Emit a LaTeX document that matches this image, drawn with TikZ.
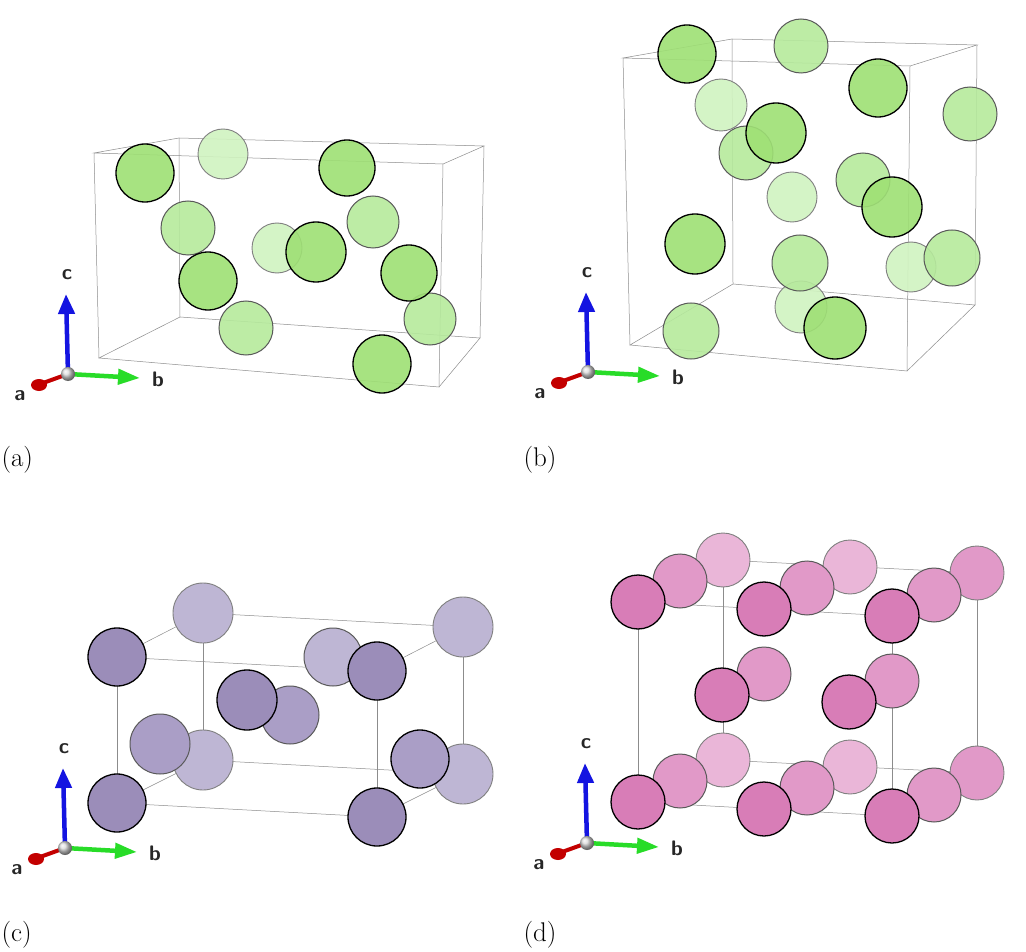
\documentclass[tikz,border=0pt]{standalone}
\usetikzlibrary{arrows.meta}
\definecolor{gD}{RGB}{158,224,116}\definecolor{gM}{RGB}{182,234,156}\definecolor{gL}{RGB}{208,243,192}
\definecolor{pD}{RGB}{155,141,185}\definecolor{pM}{RGB}{170,158,198}\definecolor{pL}{RGB}{190,182,212}
\definecolor{kD}{RGB}{216,125,183}\definecolor{kM}{RGB}{225,153,200}\definecolor{kL}{RGB}{234,182,216}
\definecolor{axC}{RGB}{20,20,225}\definecolor{axB}{RGB}{40,220,40}\definecolor{axA}{RGB}{195,0,0}
\tikzset{
 edge/.style={draw=black!45,line width=0.5pt},
 dk/.style={draw=black,line width=1.3pt},
 md/.style={draw=black!65,line width=1pt},
 lt/.style={draw=black!50,line width=0.9pt},
 axlab/.style={font=\sffamily\bfseries\fontsize{21}{21}\selectfont,text=black!85},
 panlab/.style={font=\fontsize{27}{29}\selectfont,anchor=west}
}
\newcommand\ball[4]{\path[#1] (#2,#3) circle[radius=#4];}
\newcommand\axesat[2]{%
 \begin{scope}[shift={(#1,#2)}]
  \draw[line width=4.5pt,draw=axC,-{Triangle[length=20pt,width=16pt]}] (0,0) -- (-2,-80);
  \draw[line width=4.5pt,draw=axB,-{Triangle[length=22pt,width=15pt]}] (0,0) -- (72,4);
  \draw[line width=4pt,draw=axA] (0,0) -- (-25,9);
  \fill[axA] (-29,11) ellipse[x radius=8,y radius=6];
  \shade[ball color=black!15] (0,0) circle[radius=7];
  \node[axlab] (cl) at (-1,-99) {c};
  \node[axlab] (bl) at (90,5) {b};
  \node[axlab] (al) at (-48,22) {a};
 \end{scope}}
\begin{document}
\begin{tikzpicture}[x=1pt,y=-1pt]
\useasboundingbox[fill=white] (0,0) rectangle (1026,952);
% ---------------- (a)
\draw[edge] (94,153)--(179,138)--(484,146)--(443,164)--cycle;
\draw[edge] (99,358)--(180,317)--(480,338)--(439,387)--cycle;
\draw[edge] (94,153)--(99,358) (179,138)--(180,317) (484,146)--(480,338) (443,164)--(439,387);
\begin{scope}[fill opacity=0.9]
\ball{fill=gL,lt}{223}{154}{25}
\ball{fill=gL,lt}{277}{248}{25}
\ball{fill=gM,md}{188}{228}{27}
\ball{fill=gM,md}{373}{222}{26}
\ball{fill=gM,md}{246}{328}{27}
\ball{fill=gM,md}{430}{319}{26}
\ball{fill=gD,dk}{145}{173}{29}
\ball{fill=gD,dk}{347}{168}{28}
\ball{fill=gD,dk}{208}{281}{29}
\ball{fill=gD,dk}{316}{252}{30}
\ball{fill=gD,dk}{409}{273}{28}
\ball{fill=gD,dk}{382}{364}{29}
\end{scope}
\axesat{68}{374}
\node[panlab] (la) at (-2,460) {(a)};
% ---------------- (b)
\draw[edge] (623,58)--(732,39)--(977,45)--(910,66)--cycle;
\draw[edge] (630,345)--(733,284)--(975,305)--(907,371)--cycle;
\draw[edge] (623,58)--(630,345) (732,39)--(733,284) (977,45)--(975,305) (910,66)--(907,371);
\begin{scope}[fill opacity=0.9]
\ball{fill=gL,lt}{721}{105}{26}
\ball{fill=gL,lt}{792}{197}{25}
\ball{fill=gL,lt}{801}{307}{26}
\ball{fill=gL,lt}{911}{267}{25}
\ball{fill=gM,md}{801}{46}{27}
\ball{fill=gM,md}{970}{114}{27}
\ball{fill=gM,md}{746}{153}{27}
\ball{fill=gM,md}{863}{180}{27}
\ball{fill=gM,md}{800}{263}{28}
\ball{fill=gM,md}{952}{258}{28}
\ball{fill=gM,md}{691}{331}{28}
\ball{fill=gD,dk}{687}{54}{29}
\ball{fill=gD,dk}{776}{133}{30}
\ball{fill=gD,dk}{878}{88}{29}
\ball{fill=gD,dk}{892}{207}{30}
\ball{fill=gD,dk}{695}{244}{30}
\ball{fill=gD,dk}{835}{328}{31}
\end{scope}
\axesat{588}{372}
\node[panlab] (lb) at (520,460) {(b)};
% ---------------- (c)
\draw[edge] (117,657)--(203,613)--(463,627)--(377,671)--cycle;
\draw[edge] (117,803)--(203,760)--(463,774)--(377,817)--cycle;
\draw[edge] (117,657)--(117,803) (203,613)--(203,760) (463,627)--(463,774) (377,671)--(377,817);
\ball{fill=pL,lt}{203}{613}{30}
\ball{fill=pL,lt}{463}{627}{30}
\ball{fill=pL,lt}{203}{760}{30}
\ball{fill=pL,lt}{463}{774}{30}
\ball{fill=pL,md}{333}{657}{29}
\ball{fill=pM,md}{160}{744}{30}
\ball{fill=pM,md}{290}{715}{29}
\ball{fill=pD,dk}{247}{700}{30}
\ball{fill=pM,dk}{420}{759}{29}
\ball{fill=pD,dk}{117}{657}{29}
\ball{fill=pD,dk}{377}{671}{29}
\ball{fill=pD,dk}{117}{803}{29}
\ball{fill=pD,dk}{377}{817}{29}
\axesat{65}{848}
\node[panlab] (lc) at (-2,935) {(c)};
% ---------------- (d)
\draw[edge] (638,602)--(723,560)--(977,573)--(892,616)--cycle;
\draw[edge] (638,802)--(723,760)--(977,773)--(892,816)--cycle;
\draw[edge] (638,602)--(638,802) (723,560)--(723,760) (977,573)--(977,773) (892,616)--(892,816);
\foreach \dy in {0,200}{
 \ball{fill=kL,lt}{723}{560+\dy}{27}
 \ball{fill=kL,lt}{850}{567+\dy}{27}
 \ball{fill=kM,lt}{977}{573+\dy}{27}
 \ball{fill=kM,md}{680}{581+\dy}{27}
 \ball{fill=kM,md}{807}{588+\dy}{27}
 \ball{fill=kM,md}{934}{595+\dy}{27}
 \ball{fill=kD,dk}{638}{602+\dy}{27}
 \ball{fill=kD,dk}{764}{609+\dy}{27}
 \ball{fill=kD,dk}{892}{616+\dy}{27}
}
\ball{fill=kM,md}{764}{674}{27}
\ball{fill=kM,md}{892}{681}{27}
\ball{fill=kD,dk}{722}{695}{27}
\ball{fill=kD,dk}{849}{702}{27}
\axesat{587}{843}
\node[panlab] (ld) at (520,935) {(d)};
\end{tikzpicture}
\end{document}
